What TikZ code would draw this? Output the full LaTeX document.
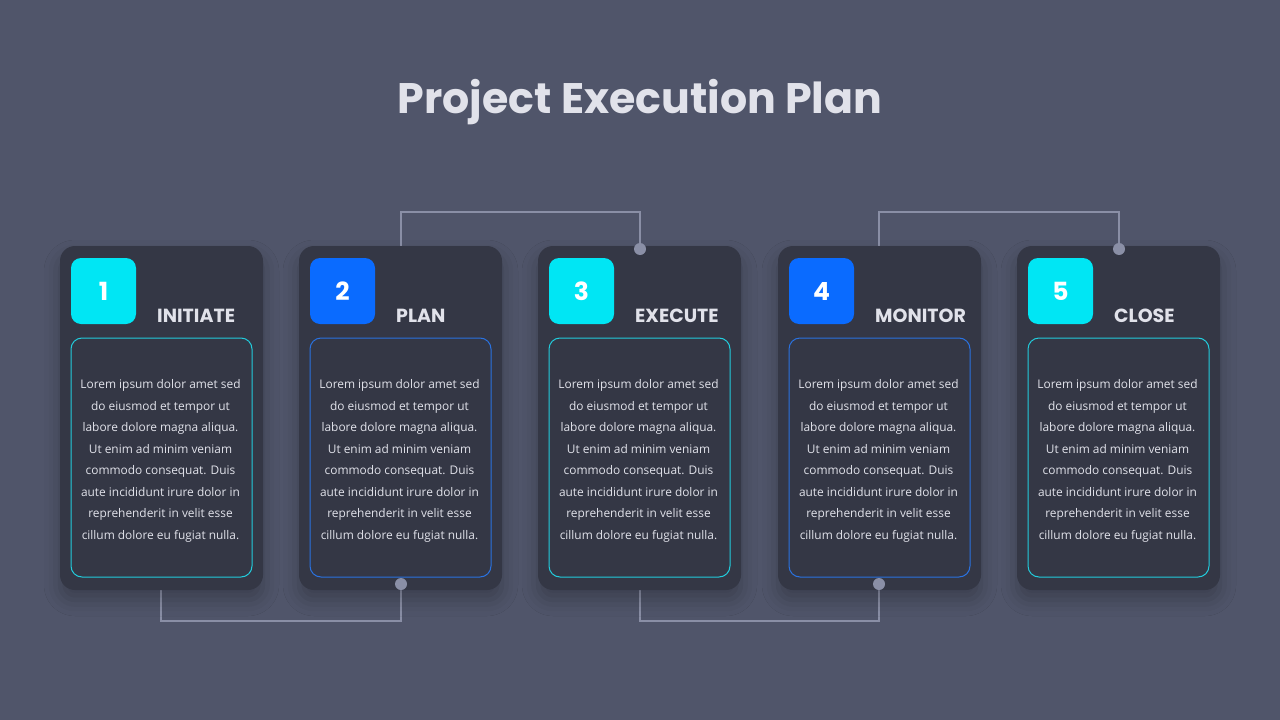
\documentclass[tikz,border=0pt]{standalone}
\usepackage{fontspec}
\setmainfont{Open Sans}
\newfontfamily\popb{Poppins}[UprightFont=* Bold]
\usetikzlibrary{shadows.blur}
\definecolor{bgc}{HTML}{50556A}
\definecolor{cardc}{HTML}{343745}
\definecolor{cyanc}{HTML}{00E6F4}
\definecolor{bluec}{HTML}{0A6BFF}
\definecolor{cyanln}{HTML}{22CCDC}
\definecolor{blueln}{HTML}{2A72E0}
\definecolor{linec}{HTML}{8A8FA6}
\definecolor{txtc}{HTML}{E1E2EA}
\tikzset{
  card/.style={fill=cardc, rounded corners=15pt, blur shadow={shadow xshift=0pt, shadow yshift=-10pt, shadow blur radius=16pt, shadow opacity=25}},
  numbox/.style={fill=#1, rounded corners=10pt},
  inbox/.style={draw=#1, line width=1pt, rounded corners=11pt},
  conn/.style={draw=linec, line width=1.8pt},
  dotc/.style={fill=linec},
  numtxt/.style={text=white, font=\popb\fontsize{25}{30}\selectfont},
  lbltxt/.style={text=txtc, font=\popb\fontsize{19}{22}\selectfont, anchor=base west, inner sep=0pt},
  bodytxt/.style={text=txtc, font=\fontsize{11.9}{21.5}\selectfont, align=center},
}
\begin{document}
\begin{tikzpicture}[x=1pt,y=-1pt]
\fill[bgc] (0,0) rectangle (1280,720);
\useasboundingbox (0,0) rectangle (1280,720);
\node[text=txtc, font=\popb\fontsize{42.7}{50}\selectfont] (title) at (640,102) {Project Execution Plan};
% connectors (drawn behind cards)
\coordinate (c1b) at (161,590);
\coordinate (c2b) at (401,584);
\coordinate (c2t) at (401,246);
\coordinate (c3t) at (640,249);
\coordinate (c3b) at (640,590);
\coordinate (c4b) at (879,584);
\coordinate (c4t) at (879,246);
\coordinate (c5t) at (1119,249);
\draw[conn] (c1b) |- (401,621) -- (c2b);
\draw[conn] (c2t) |- (640,212) -- (c3t);
\draw[conn] (c3b) |- (879,621) -- (c4b);
\draw[conn] (c4t) |- (1119,212) -- (c5t);
\foreach \i/\x/\n/\lab/\fc/\lc in {1/60/1/INITIATE/cyanc/cyanln, 2/299/2/PLAN/bluec/blueln, 3/538/3/EXECUTE/cyanc/cyanln, 4/778/4/MONITOR/bluec/blueln, 5/1017/5/CLOSE/cyanc/cyanln}{
  \fill[card] (\x,246) rectangle ++(203,344);
  \fill[numbox=\fc] (\x+11,258) rectangle ++(65,66);
  \node[numtxt] (num\i) at (\x+43.5,291) {\n};
  \node[lbltxt] (lab\i) at (\x+97,322) {\lab};
  \draw[inbox=\lc] (\x+11,338) rectangle ++(181,239);
  \node[bodytxt, anchor=north] (body\i) at (\x+100.5,376) {Lorem ipsum dolor amet sed\\ do eiusmod et tempor ut\\ labore dolore magna aliqua.\\ Ut enim ad minim veniam\\ commodo consequat. Duis\\ aute incididunt irure dolor in\\ reprehenderit in velit esse\\ cillum dolore eu fugiat nulla.};
}
\fill[dotc] (c2b) circle (6);
\fill[dotc] (c3t) circle (6);
\fill[dotc] (c4b) circle (6);
\fill[dotc] (c5t) circle (6);
\end{tikzpicture}
\end{document}
